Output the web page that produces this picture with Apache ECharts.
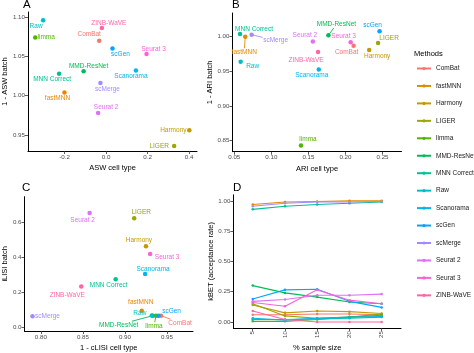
<!DOCTYPE html>
<html>
<head>
<meta charset="utf-8">
<script src="https://cdn.jsdelivr.net/npm/echarts@6/dist/echarts.min.js"></script>
<style>
  html, body { margin: 0; padding: 0; background: #fff; }
  #chart { width: 474px; height: 353px; }
</style>
</head>
<body>
<div id="chart"></div>
<script>
const methods = ['ComBat', 'fastMNN', 'Harmony', 'LIGER', 'limma', 'MMD-ResNet', 'MNN Correct',
  'Raw', 'Scanorama', 'scGen', 'scMerge', 'Seurat 2', 'Seurat 3', 'ZINB-WaVE'];

// ggplot hue palette, 14 levels
const colors = ['#F8766D', '#E38900', '#C49A00', '#99A800', '#53B400', '#00BC56', '#00C094',
  '#00BFC4', '#00B6EB', '#06A4FF', '#A58AFF', '#DF70F8', '#FB61D7', '#FF66A8'];

// panel A
const aswCellType = [-0.033, -0.200, 0.401, 0.328, -0.341, -0.108, -0.226, -0.303, 0.144, 0.031, -0.027, -0.038, 0.195, -0.020];
const aswBatch = [1.070, 1.004, 0.956, 0.936, 1.074, 1.031, 1.028, 1.096, 1.032, 1.060, 1.016, 0.978, 1.053, 1.086];
// panel B
const ariCellType = [0.211, 0.0648, 0.232, 0.244, 0.140, 0.177, 0.0577, 0.0586, 0.164, 0.246, 0.0734, 0.156, 0.207, 0.163];
const ariBatch = [0.986, 0.999, 0.980, 0.990, 0.843, 1.001, 1.003, 0.963, 0.952, 1.007, 1.002, 0.992, 0.991, 0.977];
// panel C
const lisiCellType = [0.943, 0.920, 0.925, 0.911, 0.937, 0.933, 0.889, 0.932, 0.924, 0.940, 0.790, 0.858, 0.930, 0.848];
const lisiBatch = [0.068, 0.097, 0.463, 0.622, 0.068, 0.068, 0.275, 0.069, 0.305, 0.068, 0.065, 0.652, 0.419, 0.234];
// panel D
const sampleSize = [5, 10, 15, 20, 25];
const kbet = [
  [0.06, 0.06, 0.065, 0.065, 0.06],   // ComBat
  [0.97, 0.99, 0.995, 1.0, 1.0],      // fastMNN
  [0.14, 0.075, 0.09, 0.085, 0.07],   // Harmony
  [0.15, 0.05, 0.03, 0.04, 0.065],    // LIGER
  [0.005, 0.005, 0.02, 0.04, 0.055],  // limma
  [0.30, 0.24, 0.205, 0.165, 0.15],   // MMD-ResNet
  [0.93, 0.955, 0.97, 0.98, 0.99],    // MNN Correct
  [0.02, 0.02, 0.025, 0.03, 0.04],    // Raw
  [0.03, 0.015, 0.03, 0.04, 0.045],   // Scanorama
  [0.19, 0.265, 0.27, 0.17, 0.12],    // scGen
  [0.955, 0.98, 0.99, 0.99, 0.995],   // scMerge
  [0.17, 0.185, 0.22, 0.22, 0.23],    // Seurat 2
  [0.16, 0.13, 0.265, 0.18, 0.15],    // Seurat 3
  [0.09, 0.02, 0.0, 0.0, 0.0]         // ZINB-WaVE
];

// tick labels
const ticksAx = [-0.2, 0, 0.2, 0.4];
const ticksAy = [0.95, 1.00, 1.05, 1.10];
const ticksBx = [0.05, 0.10, 0.15, 0.20, 0.25];
const ticksBy = [0.85, 0.90, 0.95, 1.00];
const ticksCx = [0.80, 0.85, 0.90, 0.95];
const ticksCy = [0, 0.2, 0.4, 0.6];
const ticksDy = [0, 0.25, 0.5, 0.75, 1.0];

// label placement (px from point), like ggrepel did it
const offA = [[-10, -6], [-7, 6], [-16, 0], [-15, 0], [11, 0], [5, -5], [-7, 6], [-7, 6], [-5, 6], [8, 6], [7, 6], [8, -6], [7, -5], [7, -5]];
const offB = [[-7, 6], [-1, 15], [8, 6], [11, -5], [7, -6], [8, -11], [14, -5], [12, 4], [-7, 6], [-7, -6], [24, 6], [-8, -6], [-7, -6], [-12, 8]];
const offC = [[19, 7], [-1, -8], [-7, -6], [7, -6], [-2, 10], [-34, 9], [-7, 6], [-12, -2], [8, -5], [13, -5], [15, 0], [-7, 7], [17, 3], [-14, 9]];
const leadB = ['fastMNN', 'MMD-ResNet', 'scMerge'];
const leadC = ['ComBat', 'MMD-ResNet', 'limma'];

const font = 'Liberation Sans, Arial, sans-serif';
const labelSize = 6.5;
const grey = '#4D4D4D';

const grids = [
  { left: 26, top: 12, width: 171, height: 139 },
  { left: 232.5, top: 13, width: 169, height: 138.7 },
  { left: 22.7, top: 196.7, width: 170.3, height: 135.6 },
  { left: 233.4, top: 194.8, width: 167.6, height: 136.9 }
];

function axis(gi, min, max, ticks, digits, name, nameGap) {
  return {
    type: 'value', gridIndex: gi, min, max, scale: true,
    name, nameLocation: 'middle', nameGap,
    nameTextStyle: { fontFamily: font, fontSize: 7.5, color: '#000' },
    axisLine: { show: true, onZero: false, lineStyle: { color: '#000', width: 1 } },
    axisTick: { show: true, length: 3, customValues: ticks, lineStyle: { color: '#333', width: 0.8 } },
    axisLabel: {
      show: true, customValues: ticks, fontFamily: font, fontSize: 6.2, color: grey, margin: 3,
      formatter: v => v.toFixed(digits)
    },
    splitLine: { show: false }
  };
}

const xAxes = [
  axis(0, -0.376, 0.438, ticksAx, 1, 'ASW cell type', 13),
  axis(1, 0.0476, 0.2756, ticksBx, 2, 'ARI cell type', 13),
  axis(2, 0.7805, 0.981, ticksCx, 2, '1 - cLISI cell type', 13),
  axis(3, 2, 28, sampleSize, 0, '% sample size', 16)
];
xAxes[3].axisLabel.rotate = 90;

const yAxes = [
  axis(0, 0.9297, 1.1064, ticksAy, 2, '1 - ASW batch', 18),
  axis(1, 0.8342, 1.033, ticksBy, 2, '1 - ARI batch', 18),
  axis(2, -0.0186, 0.744, ticksCy, 1, 'iLISI batch', 14),
  axis(3, -0.05, 1.05, ticksDy, 2, 'kBET (acceptance rate)', 18)
];

const series = [];

// panel D lines first so the legend takes the line icon
methods.forEach((m, i) => {
  series.push({
    type: 'line', name: m, xAxisIndex: 3, yAxisIndex: 3,
    data: sampleSize.map((s, k) => [s, kbet[i][k]]),
    symbol: 'circle', symbolSize: 2.5, showSymbol: true,
    lineStyle: { color: colors[i], width: 1.1 },
    itemStyle: { color: colors[i] },
    animation: false, silent: true
  });
});

function addScatter(gi, xs, ys, offs) {
  methods.forEach((m, i) => {
    series.push({
      type: 'scatter', name: m, xAxisIndex: gi, yAxisIndex: gi,
      data: [[xs[i], ys[i]]], symbolSize: 4.5,
      itemStyle: { color: colors[i], opacity: 1 },
      label: {
        show: true, position: 'inside', formatter: m, color: colors[i],
        fontFamily: font, fontSize: labelSize, offset: offs[i]
      },
      animation: false, silent: true
    });
  });
}
addScatter(0, aswCellType, aswBatch, offA);
addScatter(1, ariCellType, ariBatch, offB);
addScatter(2, lisiCellType, lisiBatch, offC);

const letter = (text, left, top) => ({
  text, left, top, padding: 0,
  textStyle: { fontFamily: font, fontSize: 11.5, fontWeight: 'normal', color: '#000' }
});

const chart = echarts.init(document.getElementById('chart'), null, { renderer: 'canvas' });
chart.setOption({
  animation: false,
  backgroundColor: '#fff',
  title: [
    letter('A', 23, -1),
    letter('B', 232, -1),
    letter('C', 22, 182),
    letter('D', 233, 182),
    { text: 'Methods', left: 414, top: 50, padding: 0,
      textStyle: { fontFamily: font, fontSize: 7.5, fontWeight: 'normal', color: '#000' } }
  ],
  legend: {
    data: methods, orient: 'vertical', left: 416, top: 65,
    itemWidth: 14, itemHeight: 4, itemGap: 10.45, padding: 0,
    textStyle: { fontFamily: font, fontSize: 6.5, color: '#222' },
    selectedMode: false
  },
  grid: grids,
  xAxis: xAxes,
  yAxis: yAxes,
  series
});

// ggrepel-style segments: from the point to the edge of its moved label
const ctx = document.createElement('canvas').getContext('2d');
ctx.font = labelSize + 'px ' + font;
function leaders(gi, xs, ys, offs, names) {
  return names.map(m => {
    const i = methods.indexOf(m);
    const p = chart.convertToPixel({ gridIndex: gi }, [xs[i], ys[i]]);
    const [dx, dy] = offs[i];
    const hw = ctx.measureText(m).width / 2 + 0.5, hh = 3.5;
    const t = Math.min(dx ? hw / Math.abs(dx) : Infinity, dy ? hh / Math.abs(dy) : Infinity);
    const k = Math.max(0, 1 - t);
    return {
      type: 'line', silent: true, z: 1,
      shape: { x1: p[0], y1: p[1], x2: p[0] + dx * k, y2: p[1] + dy * k },
      style: { stroke: colors[i], lineWidth: 0.9 }
    };
  });
}
chart.setOption({
  graphic: [].concat(
    leaders(1, ariCellType, ariBatch, offB, leadB),
    leaders(2, lisiCellType, lisiBatch, offC, leadC)
  )
});
</script>
</body>
</html>
